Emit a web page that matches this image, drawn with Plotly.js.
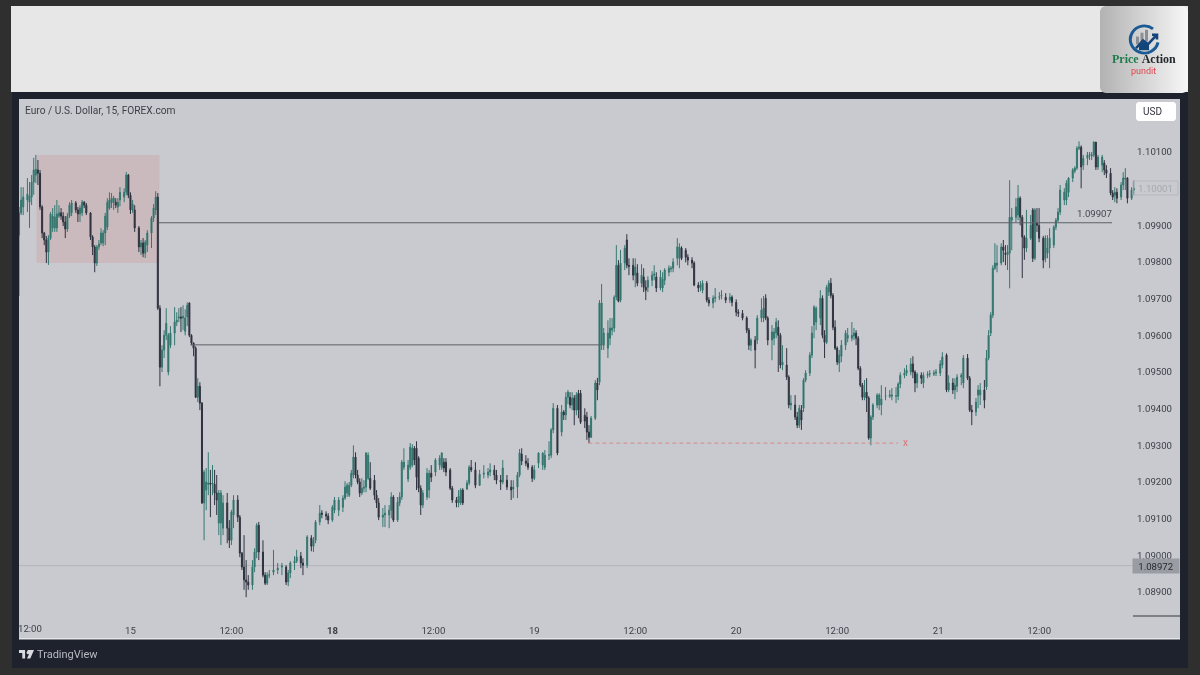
<!DOCTYPE html>
<html><head><meta charset="utf-8">
<script src="https://cdn.plot.ly/plotly-3.0.1.min.js"></script>
<style>html,body{margin:0;padding:0;background:#2f2f2f;overflow:hidden}#chart{width:1200px;height:675px;filter:blur(0.3px)}</style>
</head><body><div id="chart"></div>
<script>
// Bar number: 15-minute bars counted from the first "12:00" tick. Prices are in points above 1.09000 (1 point = 0.00001).
const barIndex = [
-5,-4,-3,-1,0,1,2,3,4,5,6,7,8,9,10,11,12,13,14,15,16,17,18,19,20,22,23,24,25,26,27,29,30,31,32,33,34,35,36,37,38,39,40,41,42,43,45,46,47,48,49,50,52,53,54,55,56,58,59,60,61,62,
63,64,65,66,67,69,70,71,72,73,74,75,76,77,78,79,80,81,82,83,84,85,86,87,88,89,90,91,92,94,95,96,97,99,100,101,102,103,104,106,107,108,109,111,112,113,114,116,118,120,122,123,124,126,127,129,130,132,134,135,136,138,139,141,142,144,145,147,149,150,151,
152,153,154,155,156,157,158,159,160,161,162,164,165,166,168,169,171,172,173,175,176,177,178,180,181,182,183,184,185,186,187,189,190,191,193,195,196,197,198,200,201,203,204,205,206,208,209,210,212,214,216,218,219,221,222,224,225,227,229,230,232,233,234,236,237,239,240,242,244,245,247,248,249,251,253,254,255,256,257,258,259,260,261,
262,264,265,266,267,269,270,271,272,273,275,276,277,278,279,280,281,283,284,285,287,288,289,291,292,293,294,296,297,298,300,301,302,304,305,306,308,309,310,312,313,315,316,318,319,320,322,323,325,326,328,329,331,333,334,336,337,339,341,342,343,345,346,348,349,350,351,353,354,355,356,
357,358,360,361,362,364,365,366,367,368,369,371,372,373,374,376,377,378,379,380,381,382,383,384,385,386,388,389,391,392,393,394,395,396,397,398,399,400,401,403,404,405,407,409,410,412,413,414,416,417,419,420,421,422,424,425,427,428,430,431,433,434,436,437,439,440,441,443,444,446,447,448,450,451,452,454,455,456,457,458,
459,460,462,463,464,465,466,467,469,470,471,472,473,474,476,477,478,479,480,482,483,484,485,487,488,489,490,492,493,494,496,497,498,499,500,501,503,504,505,506,507,508,510,511,512,514,515,516,517,519,520,521,522,524,525];
const openPts = [
873,934,950,969,963,977,1018,1037,1051,1042,950,879,860,827,865,893,893,893,925,934,925,909,890,925,934,961,942,931,934,963,955,934,868,841,797,841,852,852,879,895,947,961,963,963,950,969,977,990,1037,982,942,942,893,841,852,824,846,879,920,942,977,674,
513,560,600,500,573,606,636,647,650,647,611,650,688,600,579,565,431,461,415,143,178,194,197,194,194,170,88,88,74,143,74,41,110,151,104,6,-32,-67,-73,-81,-32,9,82,9,-54,-76,-54,-46,-40,-32,-32,-73,-48,-21,-16,-2,-21,-27,47,25,41,91,115,112,107,96,123,123,131,156,170,
164,191,219,268,219,200,170,183,186,210,210,205,164,143,104,110,110,123,159,96,143,159,240,208,240,246,292,292,265,183,137,159,178,224,227,246,240,254,254,233,183,151,143,143,178,181,197,240,233,191,221,219,227,233,219,205,200,205,186,181,186,219,276,257,251,240,210,251,246,240,273,273,342,401,336,391,383,431,431,410,429,396,442,
442,382,377,336,322,374,470,472,573,573,565,592,614,620,704,791,696,797,860,791,791,764,770,742,759,731,731,750,764,759,729,729,750,772,781,783,810,810,838,832,813,805,797,737,731,723,742,696,688,701,704,707,704,696,704,690,663,660,647,614,573,587,587,647,647,701,647,587,592,606,622,
600,519,519,486,410,410,377,355,396,401,478,497,546,628,636,647,701,600,581,718,742,709,622,565,524,543,573,592,592,598,606,592,510,464,431,445,429,320,377,410,410,410,434,434,434,434,434,467,491,497,500,522,500,470,491,470,491,494,494,497,497,519,546,451,470,451,461,486,470,538,483,396,391,437,437,451,459,538,606,655,
783,791,797,841,824,819,824,914,922,928,974,922,868,838,865,942,810,906,900,865,810,824,838,846,895,914,936,969,969,990,1029,1048,1056,1110,1113,1064,1083,1092,1089,1092,1127,1059,1064,1070,1051,1042,988,982,990,977,1010,1026,1029,974,996];
const highPts = [
950,1004,1004,1029,1018,1037,1084,1092,1078,1051,955,882,871,873,936,947,955,969,955,947,936,925,934,963,969,966,950,955,969,966,961,936,873,846,846,860,892,887,934,974,990,988,980,974,974,1004,1001,1045,1040,990,969,955,898,860,865,860,887,925,958,993,988,682,
573,614,674,606,625,677,663,674,677,682,671,690,690,603,581,570,483,472,418,233,238,281,233,246,233,219,178,178,164,170,96,124,164,164,110,9,55,-13,-54,-13,19,88,91,41,-46,-46,-40,15,-21,-21,-27,-40,-16,-2,15,9,-8,55,55,50,96,137,123,120,115,137,159,159,164,202,197,
200,233,300,281,233,210,210,205,281,281,254,219,178,156,129,137,137,172,164,159,172,260,292,260,306,303,298,311,270,191,178,238,233,246,265,273,281,265,265,238,189,159,178,183,183,205,246,260,254,233,246,238,251,246,233,219,260,219,205,205,227,290,292,273,265,246,246,281,281,287,311,347,415,410,410,396,445,451,445,445,437,445,451,
451,401,391,355,380,478,484,696,740,620,641,647,647,709,846,805,833,846,876,810,810,810,794,794,783,750,761,775,791,772,778,772,783,791,789,810,865,851,843,838,821,813,802,745,748,750,748,704,709,729,718,723,715,715,709,698,671,669,652,620,592,598,655,701,707,712,652,628,620,647,641,
606,573,565,491,437,437,391,410,410,483,505,554,625,682,679,723,709,614,737,750,756,715,641,570,560,587,614,620,636,620,614,598,516,470,478,483,434,382,415,442,442,464,459,451,456,459,472,499,510,519,538,543,505,499,499,499,502,505,505,508,532,554,551,491,483,483,494,497,546,549,489,410,429,464,470,478,560,614,663,791,
851,846,851,860,846,846,1023,947,974,1010,979,928,873,942,928,947,947,947,947,871,873,873,892,900,920,947,1010,1001,1023,1031,1056,1061,1116,1129,1118,1092,1100,1100,1100,1129,1127,1092,1092,1078,1064,1056,996,1004,1001,1018,1045,1056,1031,1004,1023];
const lowPts = [
707,928,928,936,893,955,983,1015,1010,942,865,846,797,792,860,882,882,882,920,915,898,865,882,920,925,934,909,909,925,947,928,860,819,772,789,833,846,843,846,887,942,947,942,947,934,952,963,982,974,931,934,882,827,819,813,811,827,838,909,928,669,461,
500,538,587,491,565,573,625,636,609,614,600,625,595,573,543,429,418,396,140,41,123,164,104,164,137,110,55,28,55,33,20,28,74,91,-5,-40,-94,-114,-94,-94,-46,-8,-13,-60,-81,-81,-62,-54,-51,-54,-81,-84,-62,-40,-21,-35,-54,-35,11,9,33,82,101,96,85,91,115,107,118,151,159,
159,186,210,210,194,159,164,172,172,205,178,151,129,96,77,77,74,101,91,91,134,151,233,200,233,240,246,178,172,110,129,151,156,200,216,233,233,227,216,178,143,131,131,137,137,178,191,227,183,189,210,210,216,205,194,178,194,178,151,156,156,213,246,243,233,200,205,238,233,233,260,265,333,273,325,369,369,412,401,396,355,382,374,
358,347,315,306,320,369,423,464,560,560,538,573,600,609,696,690,690,778,783,764,750,731,734,731,718,696,718,734,750,718,723,718,737,761,772,772,791,783,805,799,791,783,734,718,720,715,690,679,674,690,696,698,688,688,679,652,650,641,606,560,557,510,576,636,636,641,573,532,573,592,500,
510,505,478,401,396,369,347,347,342,391,472,489,538,592,614,628,592,538,576,707,701,614,560,519,500,527,560,581,584,587,573,505,459,423,423,391,315,300,369,401,396,382,423,429,423,415,423,456,483,489,491,483,445,456,467,456,483,486,489,489,489,510,445,445,440,426,445,464,456,478,391,355,380,401,410,401,451,532,598,647,
778,772,791,800,791,778,728,832,909,914,900,756,806,827,860,800,805,882,854,783,799,810,783,838,887,909,928,955,955,977,1018,1042,1051,1105,1001,1051,1064,1078,1078,1086,1051,1051,1045,1037,1029,982,969,963,960,969,996,996,960,969,982];
const closePts = [
934,969,977,985,980,1018,1051,1053,1042,950,879,860,827,865,931,925,923,931,934,925,909,890,925,955,961,942,931,947,963,955,934,868,841,797,841,849,879,879,925,963,969,974,974,955,963,990,990,1037,982,942,958,893,841,852,824,854,879,920,947,977,674,513,
560,600,633,600,606,636,641,650,647,652,647,682,600,579,565,431,461,415,143,227,200,197,194,197,170,151,170,170,143,74,41,118,151,104,6,-32,-67,-73,-81,-32,9,82,9,-54,-76,-54,-53,-40,-35,-29,-73,-48,-21,-16,-5,-21,-27,50,25,41,91,115,112,107,96,131,151,151,156,186,191,
191,224,268,219,200,170,183,186,279,273,183,164,143,104,110,115,123,159,96,145,159,254,254,246,295,292,260,213,183,137,170,224,224,213,260,265,279,238,227,183,151,143,161,178,143,197,240,233,191,221,224,227,233,219,205,200,238,186,178,186,219,279,257,251,240,210,233,279,279,273,274,342,401,279,391,383,431,445,410,429,396,437,396,
363,366,336,322,374,470,451,688,688,606,606,620,620,704,791,693,797,838,791,788,764,786,742,764,731,723,750,764,767,729,759,753,778,783,783,800,841,841,810,813,805,797,737,729,737,742,696,688,701,704,705,709,696,704,690,663,660,647,614,573,587,560,647,669,674,647,587,609,609,636,600,
519,527,486,410,415,377,355,401,369,478,497,546,606,677,674,701,600,581,731,742,709,622,565,527,546,573,606,600,600,606,592,510,464,431,445,429,320,377,410,437,437,426,435,437,437,435,467,491,497,505,522,500,470,494,483,491,494,495,497,500,522,541,451,470,451,464,486,491,538,483,396,391,418,451,451,423,538,600,655,783,
797,797,841,832,821,827,922,922,950,974,922,868,838,865,900,810,942,900,865,805,865,838,865,895,914,936,996,990,1015,1029,1051,1056,1110,1113,1059,1083,1092,1093,1092,1127,1059,1086,1086,1051,1042,988,977,990,974,1010,1029,1029,974,996,1001];

const priceTicks = [1.089,1.09,1.091,1.092,1.093,1.094,1.095,1.096,1.097,1.098,1.099,1.101];
const timeTickBars = [48,96,144,192,240,288,336,384,432,480];
const timeTickText = ['15','12:00','<b>18</b>','12:00','19','12:00','20','12:00','21','12:00'];

const zoneBars = [3.3, 61.8], zonePrices = [1.09797, 1.10092];
const level1 = {price: 1.09907, from: 61.5, to: 514.7};
const level2 = {price: 1.09574, from: 76.5, to: 272};
const sweep  = {price: 1.09306, from: 265.7, to: 413};
const lowPrice = 1.08972, lastPrice = 1.10001;

if (![openPts,highPts,lowPts,closePts].every(a => a.length === barIndex.length))
  throw new Error('lengths ' + [barIndex,openPts,highPts,lowPts,closePts].map(a=>a.length));

const toPrice = a => a.map(v => +(1.09 + v / 1e5).toFixed(5));
const W = 1200, H = 675;
const px = x => x / W, py = y => 1 - y / H;
const FONT = 'Roboto, sans-serif';

const trace = {
  type: 'candlestick', x: barIndex,
  open: toPrice(openPts), high: toPrice(highPts), low: toPrice(lowPts), close: toPrice(closePts),
  increasing: {line: {color: '#357870', width: 1}, fillcolor: '#2b6660'},
  decreasing: {line: {color: '#2f333f', width: 1}, fillcolor: '#2b2f3a'},
  whiskerwidth: 0, hoverinfo: 'skip', showlegend: false
};

const paperRect = (x0, y0, x1, y1, fill, layer) => ({type: 'rect', xref: 'paper', yref: 'paper',
  x0: px(x0), x1: px(x1), y0: py(y1), y1: py(y0), fillcolor: fill, line: {width: 0}, layer: layer || 'below'});
const level = (l, color, dash) => ({type: 'line', xref: 'x', yref: 'y', x0: l.from, x1: l.to, y0: l.price, y1: l.price,
  line: {color, width: 1, dash: dash || 'solid'}, layer: 'above'});

const shapes = [
  paperRect(12, 92, 1188, 668, '#1e222d'),
  paperRect(19, 99, 1180, 639, '#c9cad0'),
  paperRect(19, 638, 1180, 639.5, '#e4e5e8'),
  paperRect(11, 6, 1188, 92, '#e7e7e7'),
  {type: 'rect', xref: 'x', yref: 'y', x0: zoneBars[0], x1: zoneBars[1], y0: zonePrices[0], y1: zonePrices[1],
   fillcolor: 'rgba(205,150,150,0.3)', line: {width: 0}, layer: 'below'},
  level(level1, '#5d6067'), level(level2, '#5d6067'), level(sweep, '#d68a8a', '4px,3px'),
  {type: 'line', xref: 'paper', yref: 'y', x0: px(19), x1: px(1133), y0: lowPrice, y1: lowPrice,
   line: {color: '#b4b5ba', width: 1}, layer: 'below'},
  {type: 'rect', xref: 'paper', yref: 'paper', x0: px(1133), x1: px(1178), y0: py(195), y1: py(181),
   line: {color: '#b5b7bd', width: 1}, fillcolor: 'rgba(0,0,0,0)', layer: 'above'},
  {type: 'line', xref: 'paper', yref: 'paper', x0: px(1133), x1: px(1180), y0: py(616), y1: py(616),
   line: {color: '#33363f', width: 1}, layer: 'above'}
];

const note = (text, x, y, size, color, extra) => Object.assign({
  text, xref: 'paper', yref: 'paper', x: px(x), y: py(y), xanchor: 'left', yanchor: 'middle',
  showarrow: false, font: {family: FONT, size, color}}, extra || {});

const annotations = [
  note('Euro / U.S. Dollar, 15, FOREX.com', 23, 110, 10.2, '#3c3f48'),
  note('USD', 1152, 111.5, 10, '#30333b', {xanchor: 'center'}),
  note('1.09907', 1075, 214, 9.6, '#44474f'),
  note('1.10001', 1155.5, 188, 9.6, '#a6a8af', {xanchor: 'center'}),
  note('1.08972', 1155.5, 566, 9.6, '#26292f', {xanchor: 'center', bgcolor: '#9a9ca4', borderpad: 1, width: 44, height: 12}),
  note('x', 905, 442.5, 10, '#d97272', {xanchor: 'center'}),
  note('TradingView', 35, 654, 11, '#b8bac1'),
  note('12:00', 16, 628, 9.6, '#3c3f48'),
  note('<span style="color:#1f7d4c"><b>Price</b></span> <b>Action</b>', 1144, 59.5, 11.5, '#23262c',
       {xanchor: 'center', font: {family: '"Liberation Serif", serif', size: 12, color: '#23262c'}}),
  note('pundit', 1143, 71, 9, '#e0474f', {xanchor: 'center'})
];

const svg = s => 'data:image/svg+xml;utf8,' + encodeURIComponent(s);
const logoBack = svg('<svg xmlns="http://www.w3.org/2000/svg" width="88" height="87"><defs><linearGradient id="g"><stop offset="0" stop-color="#b2b2b2"/><stop offset="1" stop-color="#f7f7f7"/></linearGradient></defs><rect width="88" height="87" rx="6" fill="url(#g)"/></svg>');
const logoIcon = svg('<svg xmlns="http://www.w3.org/2000/svg" width="32" height="32" viewBox="0 0 32 32"><g fill="#8b8f93"><rect x="8" y="13" width="3" height="8"/><rect x="12.5" y="9" width="3" height="10"/><rect x="17" y="6" width="3" height="12"/></g><path d="M25 5 A14 14 0 1 0 30 19" fill="none" stroke="#1c5a94" stroke-width="3"/><path d="M8 25 L15 17 L20 21 L28 12 M24 11 L29 11 L29 16" fill="none" stroke="#14457a" stroke-width="2.6"/><path d="M11 27 L11 22 L16 18 L21 22 L21 27 Z" fill="#14457a"/></svg>');
const tvLogo = svg('<svg xmlns="http://www.w3.org/2000/svg" width="16" height="9" viewBox="0 0 16 9"><path d="M0 0H6.5V8.5H3.5V3H0Z M9.5 0H16L12 8.5H8.5L11.5 2.5A1.6 1.6 0 0 1 8 2.5Z" fill="#d9dbe0"/></svg>');
const img = (source, x, y, w, h) => ({source, xref: 'paper', yref: 'paper', x: px(x), y: py(y), sizex: w / W, sizey: h / H,
  sizing: 'stretch', xanchor: 'left', yanchor: 'top', layer: 'above'});

const layout = {
  width: W, height: H, margin: {l: 0, r: 0, t: 0, b: 0},
  paper_bgcolor: '#2f2f2f', plot_bgcolor: '#c9cad0',
  showlegend: false, dragmode: false,
  xaxis: {domain: [px(19), px(1180)], range: [-5, 547], rangeslider: {visible: false}, showgrid: false, zeroline: false,
    tickmode: 'array', tickvals: timeTickBars, ticktext: timeTickText, ticks: '', ticklabelposition: 'inside',
    tickfont: {family: FONT, size: 9.6, color: '#3c3f48'}, showline: false, anchor: 'y'},
  yaxis: {domain: [py(639), py(99)], range: [1.087718, 1.102445], side: 'right', showgrid: false, zeroline: false,
    tickmode: 'array', tickvals: priceTicks, tickformat: '.5f', ticks: '', ticklabelposition: 'inside', ticklabelstandoff: 5,
    tickfont: {family: FONT, size: 9.6, color: '#3c3f48'}, showline: false, anchor: 'x'},
  shapes: shapes, annotations: annotations,
  images: [img(logoBack, 1100, 6, 88, 87), img(logoIcon, 1128, 24, 32, 31), img(tvLogo, 19, 650, 15, 9)]
};
// white rounded USD chip sits just under its text
layout.shapes.push({type: 'path', xref: 'paper', yref: 'paper', layer: 'below',
  path: (() => { const r = 2, x0 = 1136, x1 = 1176, y0 = 102, y1 = 121;
    const X = px, Y = py;
    return `M${X(x0+r)},${Y(y0)} L${X(x1-r)},${Y(y0)} L${X(x1)},${Y(y0+r)} L${X(x1)},${Y(y1-r)} L${X(x1-r)},${Y(y1)} L${X(x0+r)},${Y(y1)} L${X(x0)},${Y(y1-r)} L${X(x0)},${Y(y0+r)} Z`; })(),
  fillcolor: '#ffffff', line: {width: 0}});

Plotly.newPlot('chart', [trace], layout, {displayModeBar: false, staticPlot: true});
</script></body></html>
